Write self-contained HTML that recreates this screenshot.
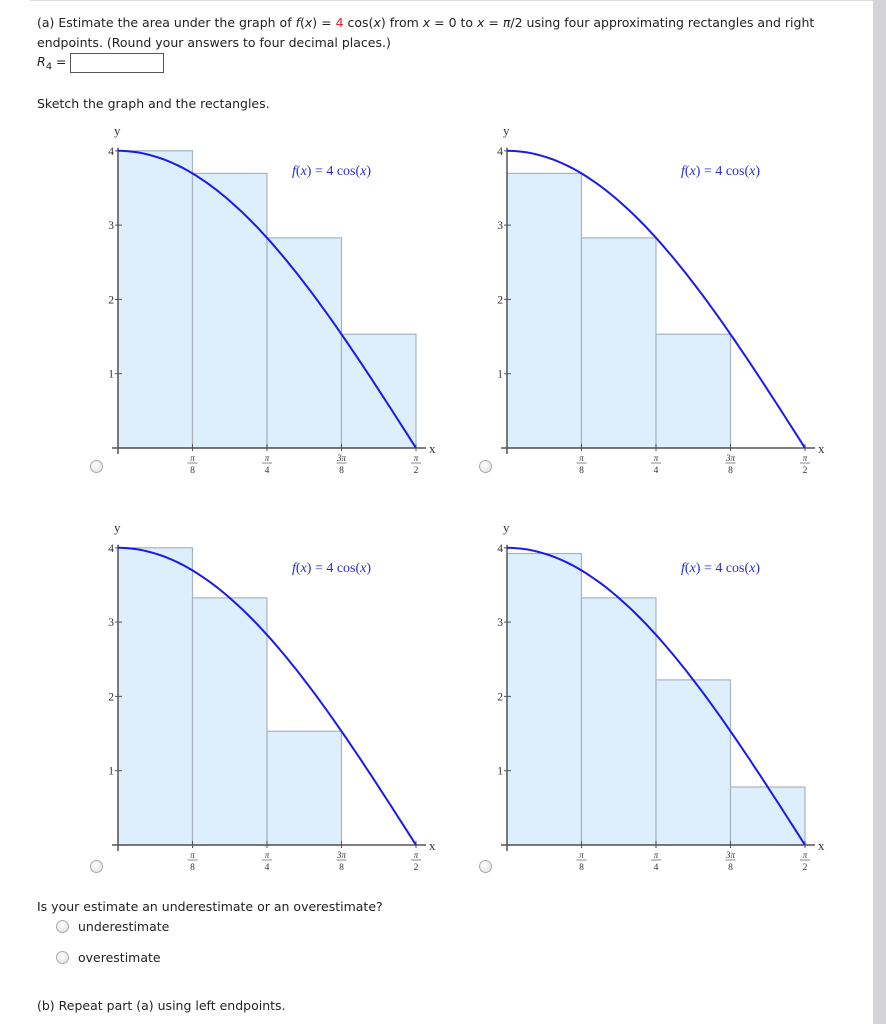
<!DOCTYPE html>
<html><head><meta charset="utf-8">
<style>
body{margin:0;width:886px;height:1024px;background:#fff;position:relative;overflow:hidden;font-family:"DejaVu Sans","Liberation Sans",sans-serif;font-size:12.5px;color:#222;}
.t{position:absolute;white-space:nowrap;}
.radio{position:absolute;width:11px;height:11px;border-radius:50%;border:1px solid #aaa;background:radial-gradient(circle at 40% 35%,#fff,#ddd);}
</style></head><body>
<div style="position:absolute;left:30px;top:0;width:843px;height:1px;background:#ddd"></div>
<div style="position:absolute;left:873px;top:0;width:13px;height:1024px;background:#d4d4d8"></div>
<div class="t" style="left:37px;top:15px">(a) Estimate the area under the graph of <i>f</i>(<i>x</i>) = <span style="color:#d22">4</span> cos(<i>x</i>) from <i>x</i> = 0 to <i>x</i> = <i>π</i>/2 using four approximating rectangles and right</div>
<div class="t" style="left:37px;top:35px">endpoints. (Round your answers to four decimal places.)</div>
<div class="t" style="left:37px;top:54px"><i>R</i><sub style="font-size:10px">4</sub> =</div>
<div style="position:absolute;left:70px;top:53px;width:92px;height:18px;border:1px solid #555;"></div>
<div class="t" style="left:37px;top:96px">Sketch the graph and the rectangles.</div>

<svg id="charts" width="886" height="1024" style="position:absolute;left:0;top:0"></svg>

<div class="radio" style="left:90px;top:460px"></div>
<div class="radio" style="left:479px;top:460px"></div>
<div class="radio" style="left:90px;top:860px"></div>
<div class="radio" style="left:479px;top:860px"></div>

<div class="t" style="left:37px;top:899px">Is your estimate an underestimate or an overestimate?</div>
<div class="radio" style="left:56px;top:920px"></div>
<div class="t" style="left:78px;top:919px">underestimate</div>
<div class="radio" style="left:56px;top:951px"></div>
<div class="t" style="left:78px;top:950px">overestimate</div>
<div class="t" style="left:37px;top:998px">(b) Repeat part (a) using left endpoints.</div>

<script>
const rectsLeft = [4, 3.696, 2.828, 1.531];
const rectsRight = [3.696, 2.828, 1.531, 0];
const rectsWrong = [4, 3.326, 1.531, 0];
const rectsMid = [3.923, 3.326, 2.222, 0.780];
const yTicks = [1, 2, 3, 4];
const xTickNum = ["π", "π", "3π", "π"];
const xTickDen2 = ["8", "4", "8", "2"];
const NS = "http://www.w3.org/2000/svg";
const svg = document.getElementById('charts');
function mk(tag, attrs, parent){const e=document.createElementNS(NS,tag);for(const k in attrs)e.setAttribute(k,attrs[k]);(parent||svg).appendChild(e);return e;}
const panels = [{ox:118,oy:448,r:rectsLeft},{ox:507,oy:448,r:rectsRight},{ox:118,oy:845,r:rectsWrong},{ox:507,oy:845,r:rectsMid}];
const XW = 298, YS = 74.3;
panels.forEach((p,pi)=>{
  const g = mk('g',{});
  
  
  const xs = v => p.ox + v/(Math.PI/2)*XW;
  const ys = v => p.oy - v*YS;
  const dx = Math.PI/8;
  p.r.forEach((h,i)=>{
    if(h<=0) return;
    const r = mk('rect',{x:xs(i*dx),y:ys(h),width:xs((i+1)*dx)-xs(i*dx),height:p.oy-ys(h),fill:'#ddeefc',stroke:'#a7b3c0','stroke-width':1.2},g);
    
    
  });
  mk('line',{x1:p.ox-6,y1:p.oy,x2:xs(Math.PI/2)+10,y2:p.oy,stroke:'#333','stroke-width':1.2},g);
  mk('line',{x1:p.ox,y1:ys(4)-3,x2:p.ox,y2:p.oy+6,stroke:'#555','stroke-width':1.5},g);
  yTicks.forEach(v=>{
    mk('line',{x1:p.ox-3,y1:ys(v),x2:p.ox+4,y2:ys(v),stroke:'#555'},g);
    const t=mk('text',{x:p.ox-4,y:ys(v)+4,'text-anchor':'end','font-size':11.5,'font-family':'Liberation Serif,serif',fill:'#333'},g);
    t.textContent=v;
  });
  for(let i=1;i<=4;i++){
    const x=xs(i*dx);
    mk('line',{x1:x,y1:p.oy-4,x2:x,y2:p.oy+3,stroke:'#555'},g);
    const n=mk('text',{x:x,y:p.oy+13,'text-anchor':'middle','font-size':9,'font-style':'italic','font-family':'Liberation Serif,serif',fill:'#333'},g);
    n.textContent=xTickNum[i-1];
    mk('line',{x1:x-5,y1:p.oy+15,x2:x+5,y2:p.oy+15,stroke:'#555','stroke-width':0.7},g);
    const d=mk('text',{x:x,y:p.oy+25,'text-anchor':'middle','font-size':9.5,'font-family':'Liberation Serif,serif',fill:'#333'},g);
    d.textContent=xTickDen2[i-1];
  }
  const xl=mk('text',{x:xs(Math.PI/2)+13,y:p.oy+5,'font-size':13,'font-family':'Liberation Serif,serif',fill:'#333'},g); xl.textContent='x';
  const yl=mk('text',{x:p.ox-4,y:ys(4)-16,'font-size':13,'font-family':'Liberation Serif,serif',fill:'#333'},g); yl.textContent='y';
  let d='';
  for(let k=0;k<=60;k++){const x=k/60*Math.PI/2;d+=(k?'L':'M')+xs(x).toFixed(1)+','+ys(4*Math.cos(x)).toFixed(1);}
  const c=mk('path',{d:d,fill:'none',stroke:'#1a1aee','stroke-width':2},g);
  
  
  const fl=mk('text',{x:p.ox+174,y:ys(4)+24,'font-size':14,'font-family':'Liberation Serif,serif',fill:'#2a2acc'},g);
  
  
  fl.innerHTML='<tspan font-style="italic">f</tspan>(<tspan font-style="italic">x</tspan>) = 4 cos(<tspan font-style="italic">x</tspan>)';
});
</script>
</body></html>
